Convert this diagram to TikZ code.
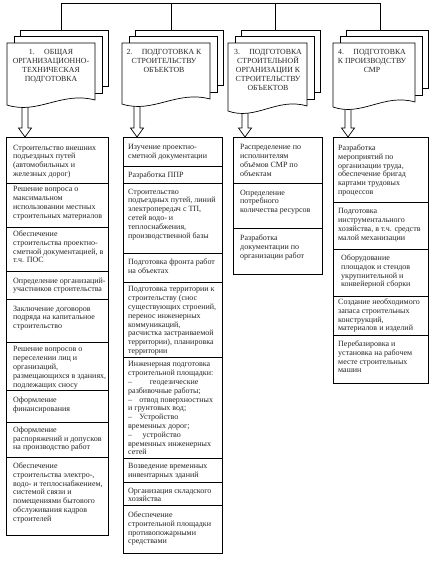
\documentclass[tikz,border=0pt]{standalone}
\usepackage{fontspec}
\setmainfont{Liberation Serif}
\tikzset{
  pline/.style={line width=0.7pt, draw=black, fill=white},
  boxline/.style={line width=0.7pt, draw=black},
  celltext/.style={inner sep=0pt, align=left, font=\fontsize{8}{8.8}\selectfont, text=black!85},
  headtext/.style={inner sep=0pt, align=center, font=\fontsize{7.8}{9}\selectfont, text=black!85},
}
% #1 id, #2 x1, #3 x2, #4 bottom, #5 arrow x
\newcommand{\docstack}[5]{%
  \draw[pline] ({#2+13.5},30) rectangle ({#3+13.5},{#4-19});
  \draw[pline] ({#2+7},36.5) rectangle ({#3+7},{#4-12});
  \coordinate (as#1) at (#5,{#4-5});
  \coordinate (ae#1) at (#5,137);
  \draw[pline] ({#5-3},{#4-5}) -- ({#5-3},128) -- ({#5-6.5},128) -- (ae#1)
     -- ({#5+6.5},128) -- ({#5+3},128) -- ({#5+3},{#4-5}) -- cycle;
  \draw[pline] (#2,43) -- (#3,43) -- (#3,{#4-5})
     .. controls ({#2+0.62*(#3-#2)},{#4-14}) and ({#2+0.35*(#3-#2)},{#4+10}) .. (#2,#4) -- cycle;
}
% #1 name, #2 x1, #3 x2, #4 y1, #5 y2, #6 text x, #7 first line centre y, #8 text
\newcommand{\cellbox}[8]{%
  \draw[boxline] (#2,#4) rectangle (#3,#5);
  \node[celltext, anchor=north west] (#1) at (#6,{#7-3.5}) {#8};
}
\begin{document}
\begin{tikzpicture}[x=1pt,y=-1pt]
\useasboundingbox (0,0) rectangle (435,565);
\fill[white] (0,0) rectangle (435,565);

% top bus
\coordinate (b1) at (61,3);
\coordinate (b2) at (171,3);
\coordinate (b3) at (275,3);
\coordinate (b4) at (380,3);
\coordinate (t1) at (61,30);
\coordinate (t2) at (171,30);
\coordinate (t3) at (275,30);
\coordinate (t4) at (380,30);
\draw[boxline] (b1) -- (b4);
\foreach \i in {1,2,3,4} \draw[boxline] (b\i) -- (t\i);

% document stacks
\docstack{1}{7}{95}{105}{25}
\docstack{2}{122}{210}{104}{137}
\docstack{3}{228}{307}{111}{245}
\docstack{4}{333}{415}{107}{348}

\node[headtext, anchor=north] (h1) at (51,49) {1.\hspace{1.2em}ОБЩАЯ\\ОРГАНИЗАЦИОННО-\\ТЕХНИЧЕСКАЯ\\ПОДГОТОВКА};
\node[headtext, anchor=north] (h2) at (164,49) {2.\hspace{1.2em}ПОДГОТОВКА К\\СТРОИТЕЛЬСТВУ\\ОБЪЕКТОВ};
\node[headtext, anchor=north] (h3) at (268,49) {3.\hspace{1.2em}ПОДГОТОВКА\\СТРОИТЕЛЬНОЙ\\ОРГАНИЗАЦИИ К\\СТРОИТЕЛЬСТВУ\\ОБЪЕКТОВ};
\node[headtext, anchor=north] (h4) at (372,49) {4.\hspace{1.2em}ПОДГОТОВКА\\К ПРОИЗВОДСТВУ\\СМР};

% column 1
\cellbox{c11}{6}{108}{137}{183}{13}{148}{Строительство внешних\\подъездных путей\\(автомобильных и\\железных дорог)}
\cellbox{c12}{6}{108}{183}{227}{13}{190}{Решение вопроса о\\максимальном\\использовании местных\\строительных материалов}
\cellbox{c13}{6}{108}{227}{271}{13}{234}{Обеспечение\\строительства проектно-\\сметной документацией, в\\т.ч. ПОС}
\cellbox{c14}{6}{108}{271}{299}{13}{281}{Определение организаций-\\участников строительства}
\cellbox{c15}{6}{108}{299}{342}{13}{309}{Заключение договоров\\подряда на капитальное\\строительство}
\cellbox{c16}{6}{108}{342}{390}{13}{350}{Решение вопросов о\\переселении лиц и\\организаций,\\размещающихся в зданиях,\\подлежащих сносу}
\cellbox{c17}{6}{108}{390}{422}{13}{400}{Оформление\\финансирования}
\cellbox{c18}{6}{108}{422}{457}{13}{430}{Оформление\\распоряжений и допусков\\на производство работ}
\cellbox{c19}{6}{108}{457}{535}{13}{466}{Обеспечение\\строительства электро-,\\водо- и теплоснабжением,\\системой связи и\\помещениями бытового\\обслуживания кадров\\строителей}

% column 2
\cellbox{c21}{123}{222}{137}{166}{128}{148}{Изучение проектно-\\сметной документации}
\cellbox{c22}{123}{222}{166}{183}{128}{175}{Разработка ППР}
\cellbox{c23}{123}{222}{183}{253}{128}{192}{Строительство\\подъездных путей, линий\\электропередач с ТП,\\сетей водо- и\\теплоснабжения,\\производственной базы}
\cellbox{c24}{123}{222}{253}{282}{128}{262}{Подготовка фронта работ\\на объектах}
\cellbox{c25}{123}{222}{282}{357}{128}{290}{Подготовка территории к\\строительству (снос\\существующих строений,\\перенос инженерных\\коммуникаций,\\расчистка застраиваемой\\территории), планировка\\территории}
\cellbox{c26}{123}{222}{357}{458}{128}{365}{Инженерная подготовка\\строительной площадки:\\–\hspace{2.2em}геодезические\\разбивочные работы;\\–\hspace{0.9em}отвод поверхностных\\и грунтовых вод;\\–\hspace{0.9em}Устройство\\временных дорог;\\–\hspace{1.3em}устройство\\временных инженерных\\сетей}
\cellbox{c27}{123}{222}{458}{482}{128}{467}{Возведение временных\\инвентарных зданий}
\cellbox{c28}{123}{222}{482}{505}{128}{491}{Организация складского\\хозяйства}
\cellbox{c29}{123}{222}{505}{553}{128}{515}{Обеспечение\\строительной площадки\\противопожарными\\средствами}

% column 3
\cellbox{c31}{233}{322}{137}{183}{240}{148}{Распределение по\\исполнителям\\объёмов СМР по\\объектам}
\cellbox{c32}{233}{322}{183}{228}{240}{193}{Определение\\потребного\\количества ресурсов}
\cellbox{c33}{233}{322}{228}{274}{240}{238}{Разработка\\документации по\\организации работ}

% column 4
\cellbox{c41}{333}{428}{137}{202}{338}{148}{Разработка\\мероприятий по\\организации труда,\\обеспечение бригад\\картами трудовых\\процессов}
\cellbox{c42}{333}{428}{202}{249}{338}{212}{Подготовка\\инструментального\\хозяйства, в т.ч. средств\\малой механизации}
\cellbox{c43}{333}{428}{249}{296}{341}{258}{Оборудование\\площадок и стендов\\укрупнительной и\\конвейерной сборки}
\cellbox{c44}{333}{428}{296}{335}{338}{302}{Создание необходимого\\запаса строительных\\конструкций,\\материалов и изделий}
\cellbox{c45}{333}{428}{335}{383}{338}{344}{Перебазировка и\\установка на рабочем\\месте строительных\\машин}
\end{tikzpicture}
\end{document}
